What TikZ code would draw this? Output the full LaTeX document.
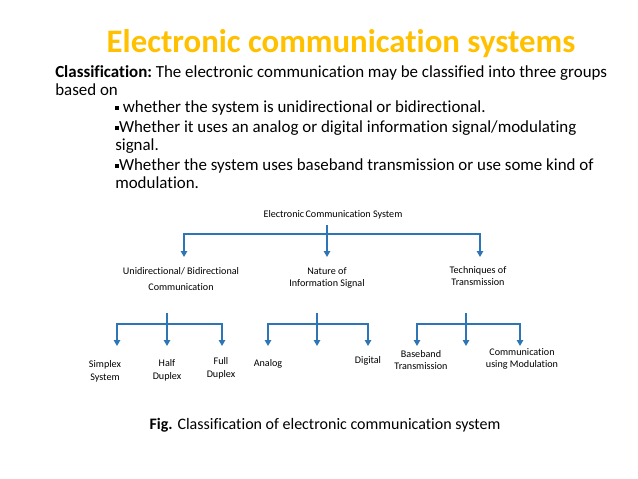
\documentclass[tikz,border=0pt]{standalone}
\usepackage{fontspec}
\setmainfont{Carlito}[Ligatures=NoCommon]
\usetikzlibrary{arrows.meta,positioning}
\definecolor{Heading}{HTML}{FFC000}
\definecolor{Link}{HTML}{2E75B6}
\newcommand{\sqbul}{\raisebox{1.8pt}{\rule{2.8pt}{2.8pt}}}

\begin{document}
\begin{tikzpicture}[x=0.75pt,y=-0.75pt,
    link/.style={draw=Link, line width=1.5pt},
    arr/.style={link, -{Triangle[length=4.5pt,width=4.8pt]}},
    lbl/.style={font=\fontsize{7.6}{9.5}\selectfont, align=center, inner sep=0pt},
    txt/.style={font=\fontsize{12.7}{14}\selectfont, anchor=base west, inner sep=0pt}]
  \useasboundingbox[fill=white] (0,0) rectangle (638,478);

  % heading and intro text
  \node[font=\fontsize{24.6}{28}\selectfont\bfseries, text=Heading, anchor=base, inner sep=0pt] (title) at (341,53)
    {Electronic communication systems};
  \node[txt] (l1) at (55,77) {\textbf{Classification:}\ The electronic communication may be classified into three groups};
  \node[txt] (l2) at (55,95) {based on};
  \node[txt] (l3) at (115,112) {\sqbul\ whether the system is unidirectional or bidirectional.};
  \node[txt] (l4) at (115,132) {\sqbul Whether it uses an analog or digital information signal/modulating};
  \node[txt] (l5) at (115,150) {signal.};
  \node[txt] (l6) at (115,170) {\sqbul Whether the system uses baseband transmission or use some kind of};
  \node[txt] (l7) at (115,188) {modulation.};

  % tree
  \node[lbl] (root) at (333,215) {Electronic\hspace{1pt}Communication System};
  \node[lbl] (uni)  at (181,279) {Unidirectional/ Bidirectional\\[2pt] Communication};
  \node[lbl] (nat)  at (327,278) {Nature of\\ Information Signal};
  \node[lbl] (tech) at (478,276) {Techniques of\\ Transmission};

  \coordinate (j0) at (327,234);
  \draw[link] (327,225) -- (j0);
  \draw[arr] (j0) -- (327,257);
  \draw[arr] (j0) -| (184,257);
  \draw[arr] (j0) -| (480,257);

  % leaves
  \node[lbl] (simplex)  at (105,371) {Simplex\\ System};
  \node[lbl] (half)     at (167,370) {Half\\ Duplex};
  \node[lbl] (full)     at (221,368) {Full\\ Duplex};
  \node[lbl] (analog)   at (268,364) {Analog};
  \node[lbl] (digital)  at (368,361) {Digital};
  \node[lbl] (baseband) at (421,360) {Baseband\\ Transmission};
  \node[lbl] (commod)   at (522,359) {Communication\\ using Modulation};

  \coordinate (j1) at (167,324);
  \draw[link] (167,313) -- (j1);
  \draw[arr] (j1) -- (167,346);
  \draw[arr] (j1) -| (117,346);
  \draw[arr] (j1) -| (222,346);

  \coordinate (j2) at (317,324);
  \draw[link] (317,313) -- (j2);
  \draw[arr] (j2) -- (317,346);
  \draw[arr] (j2) -| (268,346);
  \draw[arr] (j2) -| (368,346);

  \coordinate (j3) at (466,324);
  \draw[link] (466,313) -- (j3);
  \draw[arr] (j3) -- (466,346);
  \draw[arr] (j3) -| (417,346);
  \draw[arr] (j3) -| (520,346);

  % caption
  \node[font=\fontsize{12}{14}\selectfont, anchor=base, inner sep=0pt] (cap) at (325,429)
    {\textbf{Fig.} Classification of electronic communication system};
\end{tikzpicture}
\end{document}
